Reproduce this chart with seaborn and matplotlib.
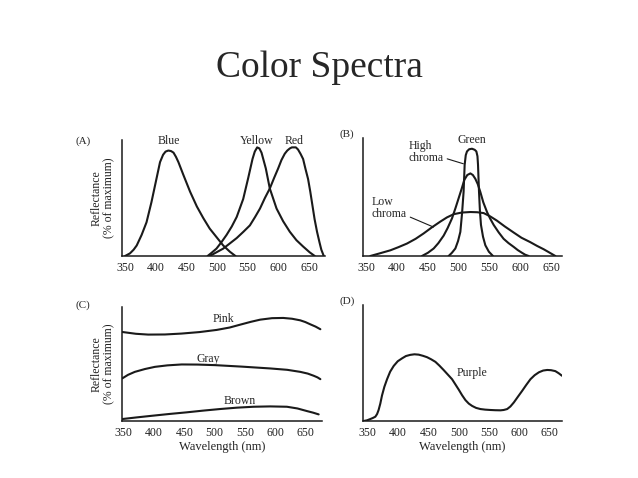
import numpy as np
import pandas as pd
import matplotlib
matplotlib.use("Agg")
import matplotlib.pyplot as plt
import seaborn as sns

# (A) pure hues
blue_nm = [350, 358, 364, 369, 377, 385, 393, 400, 407, 412, 416, 420.5, 425, 429, 433, 437, 445, 456, 467,
           477.5, 488, 499, 510, 521, 530]
blue_r = [0, 0.025, 0.06, 0.10, 0.20, 0.32, 0.51, 0.70, 0.89, 0.96, 0.99, 1.0, 0.995, 0.98, 0.94, 0.89, 0.77,
          0.61, 0.47, 0.36, 0.26, 0.18, 0.10, 0.04, 0]
yellow_nm = [484.6, 491, 499, 507, 515.5, 524, 532, 542.6, 550.8, 557.8, 561.5, 565.4, 569, 572.5, 579.5, 586,
             597, 607.7, 618.6, 629.4, 640.3, 651, 659.3]
yellow_r = [0, 0.03, 0.07, 0.13, 0.20, 0.28, 0.37, 0.54, 0.74, 0.92, 0.99, 1.03, 1.02, 0.98, 0.83, 0.64,
            0.45, 0.33, 0.23, 0.15, 0.09, 0.035, 0]
red_nm = [488, 499, 510, 521, 532, 543, 553.5, 562, 570, 578, 586, 593, 599.6, 605, 610.4, 614.5, 618.6, 622,
          625, 628.5, 632, 636, 640.3, 644, 648.4, 652, 655.5, 659, 663, 667, 670, 674]
red_r = [0, 0.035, 0.07, 0.12, 0.17, 0.23, 0.29, 0.37, 0.45, 0.55, 0.64, 0.74, 0.83, 0.91, 0.97, 1.0, 1.02,
         1.03, 1.03, 1.03, 1.01, 0.97, 0.92, 0.83, 0.73, 0.61, 0.48, 0.35, 0.23, 0.13, 0.06, 0]

# (B) green at three chromas
high_nm = [483.7, 489, 494.6, 499, 502.7, 505.5, 508, 509.7, 511.5, 513.5, 517, 521.6, 526, 528.7, 530.5,
           531.4, 533, 534.5, 536.2, 539.5, 543.3, 549, 555.7]
high_r = [0, 0.03, 0.07, 0.14, 0.225, 0.40, 0.6, 0.85, 0.94, 0.975, 0.995, 1.0, 0.99, 0.975, 0.93, 0.85,
          0.6, 0.42, 0.29, 0.18, 0.1, 0.04, 0]
mid_nm = [440.4, 450, 459.4, 467, 475.6, 482, 489.1, 495, 500, 505, 509.2, 514, 519, 523, 527, 531, 535, 540,
          546, 551, 556.8, 565, 573, 581, 589.3, 596, 602.8, 608, 613.7]
mid_r = [0, 0.03, 0.07, 0.12, 0.19, 0.26, 0.35, 0.45, 0.54, 0.63, 0.71, 0.755, 0.77, 0.755, 0.72, 0.67, 0.6,
         0.5, 0.41, 0.35, 0.29, 0.22, 0.16, 0.12, 0.085, 0.055, 0.03, 0.012, 0]
low_nm = [356.5, 372, 389, 402, 416, 430, 443, 456, 470, 481, 492, 505, 519, 530, 540.6, 551, 562, 575, 589,
          602, 616, 627, 638, 648, 657]
low_r = [0, 0.025, 0.053, 0.082, 0.116, 0.16, 0.21, 0.265, 0.32, 0.36, 0.39, 0.405, 0.41, 0.408, 0.40, 0.37,
         0.33, 0.275, 0.22, 0.17, 0.13, 0.095, 0.063, 0.03, 0]

# (C) pink, gray, brown
pink_nm = [347.2, 370, 390.3, 418, 445.6, 475, 503.6, 525, 542.3, 560, 575.4, 595, 613.5, 628, 641.7, 650,
           658.3, 667, 674.9]
pink_r = [0.781, 0.765, 0.758, 0.759, 0.767, 0.78, 0.799, 0.82, 0.845, 0.87, 0.889, 0.902, 0.904, 0.897,
          0.883, 0.868, 0.848, 0.828, 0.805]
gray_nm = [347.2, 357, 368.2, 385, 401.4, 422, 445.6, 472, 500.8, 545, 592, 620, 641.7, 654, 663.8, 670, 674.9]
gray_r = [0.373, 0.405, 0.431, 0.456, 0.475, 0.488, 0.496, 0.495, 0.490, 0.477, 0.461, 0.449, 0.431, 0.416,
          0.397, 0.383, 0.367]
brown_nm = [347.2, 372, 398.6, 426, 453.9, 481, 509.1, 537, 564.4, 592, 619.6, 637, 652.8, 663, 672.1]
brown_r = [0.017, 0.032, 0.047, 0.062, 0.076, 0.091, 0.105, 0.117, 0.125, 0.128, 0.125, 0.11, 0.087, 0.073,
           0.058]

# (D) purple
purple_nm = [343.4, 349, 354.4, 358.5, 362.6, 365.5, 368, 370.8, 373.6, 377.5, 381.9, 387, 392.9, 399.5, 406.6,
             413, 420, 427, 434, 441, 447.8, 454.5, 461.5, 468, 475, 482, 489, 494.5, 500, 505.5, 511, 516.5,
             522, 528.5, 535.7, 543.5, 552, 560, 568.7, 574, 579.7, 585, 590.7, 597.5, 604.4, 611, 618, 625,
             632, 639, 645.6, 652, 659, 664.5, 670]
purple_r = [0, 0.006, 0.017, 0.026, 0.037, 0.06, 0.095, 0.15, 0.22, 0.295, 0.36, 0.425, 0.475, 0.515, 0.54,
            0.56, 0.57, 0.575, 0.572, 0.562, 0.55, 0.532, 0.51, 0.478, 0.44, 0.40, 0.36, 0.315, 0.27, 0.222,
            0.18, 0.15, 0.13, 0.113, 0.103, 0.098, 0.095, 0.093, 0.092, 0.095, 0.103, 0.125, 0.16, 0.21,
            0.26, 0.31, 0.36, 0.395, 0.42, 0.435, 0.44, 0.438, 0.43, 0.412, 0.39]

ticks = [350, 400, 450, 500, 550, 600, 650]

sns.set_style("white")
plt.rcParams['font.family'] = ['Liberation Serif', 'DejaVu Serif']

ink = "#1a1a1a"
lw = 1.5

fig = plt.figure(figsize=(6.38, 4.78), dpi=100)
W, H = 638, 478


def box(left, top, right, bottom):
    return [left / W, 1 - bottom / H, (right - left) / W, (bottom - top) / H]


def style(ax, xlim, ylim, wave=False, refl=False):
    ax.set_xlim(*xlim)
    ax.set_ylim(*ylim)
    ax.set_xticks(ticks)
    ax.set_yticks([])
    sns.despine(ax=ax)
    for s in ["left", "bottom"]:
        ax.spines[s].set_color(ink)
        ax.spines[s].set_linewidth(1.1)
    ax.tick_params(axis="x", length=0, pad=4, labelsize=8.5, colors="#222222")
    ax.set_xlabel("Wavelength (nm)" if wave else "", fontsize=9, labelpad=2, color="#222222")
    if refl:
        ax.set_ylabel("Reflectance\n(% of maximum)", fontsize=8.5, labelpad=5, color="#222222",
                      linespacing=1.0)
    else:
        ax.set_ylabel("")


def curve(ax, x, y):
    sns.lineplot(x=x, y=y, ax=ax, color=ink, lw=lw, estimator=None, sort=False)


axA = fig.add_axes(box(122, 140, 325, 256))
axB = fig.add_axes(box(363, 138, 562, 256))
axC = fig.add_axes(box(122, 307, 322, 421))
axD = fig.add_axes(box(363, 305, 562, 421))

# A
curve(axA, blue_nm, blue_r)
curve(axA, yellow_nm, yellow_r)
curve(axA, red_nm, red_r)
style(axA, (345, 676), (0, 1.1), refl=True)
for name, x in [("Blue", 420.5), ("Yellow", 564), ("Red", 625)]:
    axA.text(x, 1.095, name, ha="center", va="center", fontsize=8.5, clip_on=False)

# B
curve(axB, high_nm, high_r)
curve(axB, mid_nm, mid_r)
curve(axB, low_nm, low_r)
style(axB, (344.6, 667.8), (0, 1.1))
axB.text(521.6, 1.08, "Green", ha="center", va="center", fontsize=8.5, clip_on=False)
axB.annotate("High\nchroma", xy=(507.5, 0.86), xytext=(419, 0.965), fontsize=8.5,
             ha="left", va="center", linespacing=1.0,
             arrowprops=dict(arrowstyle="-", color=ink, lw=0.8, shrinkA=0, shrinkB=0))
axB.annotate("Low\nchroma", xy=(459, 0.27), xytext=(359, 0.445), fontsize=8.5,
             ha="left", va="center", linespacing=1.0,
             arrowprops=dict(arrowstyle="-", color=ink, lw=0.8, shrinkA=0, shrinkB=0))

# C
curve(axC, pink_nm, pink_r)
curve(axC, gray_nm, gray_r)
curve(axC, brown_nm, brown_r)
style(axC, (347, 677.6), (0, 1.0), wave=True, refl=True)
for name, x, y in [("Pink", 514.6, 0.898), ("Gray", 489.8, 0.548), ("Brown", 542, 0.175)]:
    axC.text(x, y, name, ha="center", va="center", fontsize=8.5)

# D
curve(axD, purple_nm, purple_r)
style(axD, (342.3, 670), (0, 1.0), wave=True)
axD.text(497, 0.41, "Purple", ha="left", va="center", fontsize=8.5)

# panel letters
for lab, x, y in [("(A)", 76, 141), ("(B)", 340, 134), ("(C)", 76, 305), ("(D)", 340, 301)]:
    fig.text(x / W, 1 - y / H, lab, ha="left", va="center", fontsize=8)

fig.text(319 / W, 1 - 68 / H, "Color Spectra", ha="center", va="center", fontsize=27)

fig.savefig("out.png", dpi=100)
